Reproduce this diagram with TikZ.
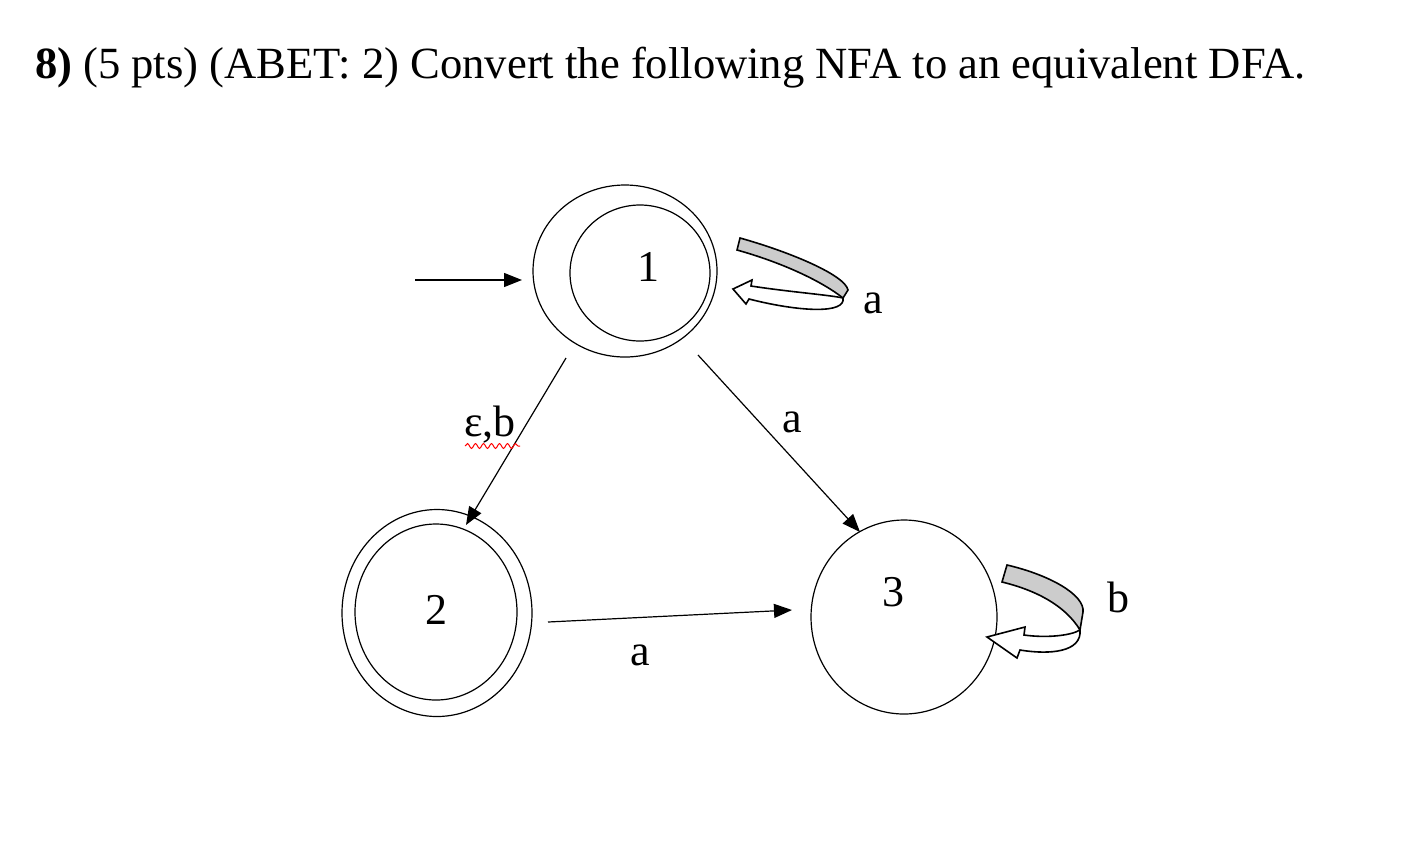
\documentclass[tikz,border=0pt]{standalone}
\usepackage{fontspec}
\setmainfont{Liberation Serif}
\usetikzlibrary{arrows.meta,shapes.geometric,decorations.pathmorphing}
\begin{document}
\begin{tikzpicture}[x=0.5pt,y=-0.5pt,
  st/.style={draw,ellipse,line width=0.6pt,inner sep=0pt},
  edge/.style={line width=0.6pt,-{Triangle[length=9pt,width=7pt]}},
  lbl/.style={font=\fontsize{22}{24}\selectfont},
  band/.style={draw,line width=0.8pt,fill=gray!40},
  ret/.style={draw,line width=0.8pt,fill=white}]
\useasboundingbox (0,0) rectangle (1408,864);
\node[anchor=west,font=\fontsize{22.3}{24}\selectfont] (title) at (28,68) {\textbf{8)} (5 pts) (ABET: 2) Convert the following NFA to an equivalent DFA.};
% states
\node[st,minimum width=92pt,minimum height=86pt] (s1o) at (625,271) {};
\node[st,minimum width=70pt,minimum height=68pt] (s1) at (640,273) {};
\node[lbl] at (648,267) {1};
\node[st,minimum width=95pt,minimum height=103.5pt] (s2o) at (437,613) {};
\node[st,minimum width=81pt,minimum height=88pt] (s2) at (436,612) {};
\node[lbl] (l2) at (436,610) {2};
\node[st,minimum width=93pt,minimum height=97pt] (s3) at (904,617) {};
\node[lbl] (l3) at (893,592) {3};
% connector end coordinates
\coordinate (st0) at (415,280);
\coordinate (st1) at (522,280);
\coordinate (a1) at (566,358); \coordinate (a2) at (466,525);
\coordinate (b1) at (698,355); \coordinate (b2) at (860,532);
\coordinate (c1) at (548,622); \coordinate (c2) at (792,610);
\draw[edge] (st0) -- (st1);
\draw[edge] (a1) -- (a2);
\draw[edge] (b1) -- (b2);
\draw[edge] (c1) -- (c2);
\node[lbl] (e12) at (490,425) {ε,b};
\draw[red,line width=0.5pt,decorate,decoration={snake,amplitude=1.2pt,segment length=4pt}] (465,446) -- (520,446);
\node[lbl] (e13) at (792,422) {a};
\node[lbl] (e23) at (640,655) {a};
\node[lbl] (la) at (873,303) {a};
\node[lbl] (lb) at (1118,597) {b};
% self loops (block arrows)
\path[band] (740,238) .. controls (790,252) and (845,275) .. (848,290) -- (843,298) .. controls (820,280) and (780,262) .. (737,250) -- cycle;
\path[ret] (843,298) .. controls (846,314) and (800,312) .. (749,299) -- (746,304) -- (733,289) -- (752,280) -- (751,286) .. controls (790,292) and (830,295) .. (843,298) -- cycle;
\path[band] (1007,565) .. controls (1050,575) and (1085,595) .. (1083,612) -- (1080,630) .. controls (1065,605) and (1035,590) .. (1002,582) -- cycle;
\path[ret] (1080,630) .. controls (1082,652) and (1050,655) .. (1020,650) -- (1017,658) -- (987,637) -- (1025,627) -- (1024,635) .. controls (1045,638) and (1070,636) .. (1080,630) -- cycle;
\end{tikzpicture}
\end{document}
